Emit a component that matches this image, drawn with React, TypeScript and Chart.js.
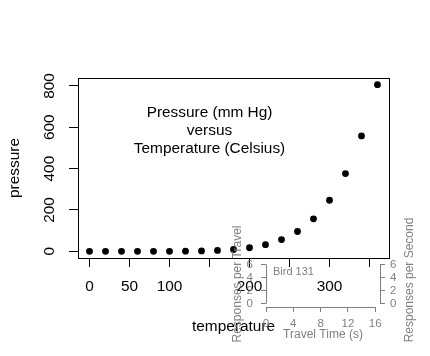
import React, { useEffect, useRef } from 'react';
import { Chart, registerables } from 'chart.js';

Chart.register(...registerables);

const FONT = '"Liberation Sans", Arial, Helvetica, sans-serif';
const GRAY = '#808080';

// R "pressure" dataset
const temperature = [0, 20, 40, 60, 80, 100, 120, 140, 160, 180, 200, 220, 240, 260, 280, 300, 320, 340, 360];
const pressure = [0.0002, 0.0012, 0.006, 0.03, 0.09, 0.27, 0.75, 1.85, 4.2, 8.8, 17.3, 32.1, 57, 96, 157, 247, 376, 558, 806];
const xTickLabels = [0, 50, 100, 200, 300];
const annotationLines = ['Pressure (mm Hg)', 'versus', 'Temperature (Celsius)'];
const annotationX = 150;
const annotationY = 600;

// inset
const insetTitle = 'Bird 131';
const insetXLabel = 'Travel Time (s)';
const insetYLabelLeft = 'Responses per Travel';
const insetYLabelRight = 'Responses per Second';

const boxPlugin = {
  id: 'rbox',
  afterDatasetsDraw(chart: any) {
    const { ctx, chartArea } = chart;
    const l = Math.floor(chartArea.left) + 0.5;
    const t = Math.floor(chartArea.top) + 0.5;
    const r = Math.floor(chartArea.right) + 0.5;
    const b = Math.floor(chartArea.bottom) + 0.5;
    ctx.save();
    ctx.strokeStyle = '#000';
    ctx.lineWidth = 1;
    ctx.strokeRect(l, t, r - l, b - t);
    ctx.restore();
  },
};

const annotationPlugin = {
  id: 'rtext',
  afterDatasetsDraw(chart: any) {
    const { ctx, scales } = chart;
    const cx = scales.x.getPixelForValue(annotationX);
    const cy = scales.y.getPixelForValue(annotationY);
    const lh = 18;
    ctx.save();
    ctx.font = `15.4px ${FONT}`;
    ctx.fillStyle = '#000';
    ctx.textAlign = 'center';
    ctx.textBaseline = 'middle';
    const n = annotationLines.length;
    annotationLines.forEach((s, i) => ctx.fillText(s, cx, cy + 3 + (i - (n - 1) / 2) * lh));
    ctx.restore();
  },
};

const insetPlugin = {
  id: 'rinset',
  afterDraw(chart: any) {
    const { ctx, chartArea, scales } = chart;
    ctx.save();
    ctx.strokeStyle = GRAY;
    ctx.lineWidth = 1;
    const line = (x1: number, y1: number, x2: number, y2: number) => {
      ctx.beginPath();
      ctx.moveTo(x1, y1);
      ctx.lineTo(x2, y2);
      ctx.stroke();
    };
    const xs = scales.x;
    const xt = xs.ticks;
    const yb = Math.floor(chartArea.bottom) + 0.5;
    line(xs.getPixelForValue(xt[0].value), yb, xs.getPixelForValue(xt[xt.length - 1].value), yb);
    for (const id of ['y', 'y2']) {
      const s = scales[id];
      const tk = s.ticks;
      const px = Math.floor(id === 'y' ? chartArea.left : chartArea.right) + 0.5;
      line(px, s.getPixelForValue(tk[0].value), px, s.getPixelForValue(tk[tk.length - 1].value));
    }
    // panel label
    ctx.fillStyle = GRAY;
    ctx.font = `11px ${FONT}`;
    ctx.textAlign = 'left';
    ctx.textBaseline = 'middle';
    ctx.fillText(insetTitle, chartArea.left + 7, chartArea.top + 11);
    // right axis title, reading bottom to top
    ctx.font = `12px ${FONT}`;
    ctx.textAlign = 'center';
    ctx.translate(chartArea.right + 30, (chartArea.top + chartArea.bottom) / 2 - 4);
    ctx.rotate(-Math.PI / 2);
    ctx.fillText(insetYLabelRight, 0, 0);
    ctx.restore();
  },
};

export default function App() {
  const mainRef = useRef<HTMLCanvasElement | null>(null);
  const insetRef = useRef<HTMLCanvasElement | null>(null);

  useEffect(() => {
    const main = new Chart(mainRef.current as HTMLCanvasElement, {
      type: 'scatter',
      data: {
        datasets: [
          {
            data: temperature.map((t, i) => ({ x: t, y: pressure[i] })),
            backgroundColor: '#000',
            borderColor: '#000',
            borderWidth: 0,
            pointRadius: 3.4,
            pointHoverRadius: 3.4,
          },
        ],
      },
      options: {
        animation: false,
        responsive: false,
        devicePixelRatio: 1,
        events: [],
        layout: { padding: { left: 0, top: 78, right: 41, bottom: 0 } },
        plugins: { legend: { display: false }, tooltip: { enabled: false } },
        scales: {
          x: {
            type: 'linear',
            position: 'bottom',
            min: -14.4,
            max: 374.4,
            afterFit: (s: any) => { s.height = 98; },
            grid: { drawOnChartArea: false, drawTicks: true, tickLength: 9, color: '#000', tickColor: '#000', tickWidth: 1 },
            border: { display: false },
            ticks: {
              stepSize: 50,
              includeBounds: false,
              autoSkip: false,
              minRotation: 0,
              maxRotation: 0,
              padding: 11,
              color: '#000',
              font: { family: FONT, size: 15.4 },
              callback: (v: any) => (xTickLabels.includes(Number(v)) ? String(v) : ''),
            },
            title: { display: true, text: 'temperature', color: '#000', font: { family: FONT, size: 15.4 }, padding: { top: 0, bottom: 20 } },
          },
          y: {
            type: 'linear',
            position: 'left',
            min: -32.24,
            max: 838.24,
            afterFit: (s: any) => { s.width = 78; },
            grid: { drawOnChartArea: false, drawTicks: true, tickLength: 9, color: '#000', tickColor: '#000', tickWidth: 1 },
            border: { display: false },
            ticks: {
              stepSize: 200,
              includeBounds: false,
              autoSkip: false,
              minRotation: 90,
              maxRotation: 90,
              crossAlign: 'center',
              padding: 6,
              color: '#000',
              font: { family: FONT, size: 15.4 },
            },
            title: { display: true, text: 'pressure', color: '#000', font: { family: FONT, size: 15.4 }, padding: { top: 6, bottom: 0 } },
          },
        },
      } as any,
      plugins: [boxPlugin, annotationPlugin],
    });

    const inset = new Chart(insetRef.current as HTMLCanvasElement, {
      type: 'scatter',
      data: { datasets: [{ data: [], yAxisID: 'y' }] },
      options: {
        animation: false,
        responsive: false,
        devicePixelRatio: 1,
        events: [],
        layout: { padding: { left: 226, top: 261, right: 0, bottom: 0 } },
        plugins: { legend: { display: false }, tooltip: { enabled: false } },
        scales: {
          x: {
            type: 'linear',
            position: 'bottom',
            min: 0,
            max: 16.7,
            afterFit: (s: any) => { s.height = 49; },
            grid: { drawOnChartArea: false, drawTicks: true, tickLength: 5, color: GRAY, tickColor: GRAY },
            border: { display: false },
            ticks: { stepSize: 4, includeBounds: false, autoSkip: false, minRotation: 0, maxRotation: 0, padding: 5, color: GRAY, font: { family: FONT, size: 11.5 } },
            title: { display: true, text: insetXLabel, color: GRAY, font: { family: FONT, size: 12 }, padding: { top: 0, bottom: 14 } },
          },
          y: {
            type: 'linear',
            position: 'left',
            min: -0.54,
            max: 6.54,
            afterFit: (s: any) => { s.width = 40; },
            grid: { drawOnChartArea: false, drawTicks: true, tickLength: 5, color: GRAY, tickColor: GRAY },
            border: { display: false },
            ticks: { stepSize: 2, includeBounds: false, autoSkip: false, padding: 8, color: GRAY, font: { family: FONT, size: 11.5 } },
            title: { display: true, text: insetYLabelLeft, color: GRAY, font: { family: FONT, size: 12 }, padding: { top: 4, bottom: 0 } },
          },
          y2: {
            type: 'linear',
            position: 'right',
            min: -0.54,
            max: 6.54,
            afterFit: (s: any) => { s.width = 50; },
            grid: { drawOnChartArea: false, drawTicks: true, tickLength: 5, color: GRAY, tickColor: GRAY },
            border: { display: false },
            ticks: { stepSize: 2, includeBounds: false, autoSkip: false, padding: 5, color: GRAY, font: { family: FONT, size: 11.5 } },
          },
        },
      } as any,
      plugins: [insetPlugin],
    });

    return () => {
      main.destroy();
      inset.destroy();
    };
  }, []);

  return (
    <div style={{ position: 'absolute', left: 0, top: 0, width: 430, height: 356, background: '#fff' }}>
      <canvas ref={mainRef} width={430} height={356} style={{ position: 'absolute', left: 0, top: 0, width: 430, height: 356 }} />
      <canvas ref={insetRef} width={430} height={356} style={{ position: 'absolute', left: 0, top: 0, width: 430, height: 356 }} />
    </div>
  );
}
